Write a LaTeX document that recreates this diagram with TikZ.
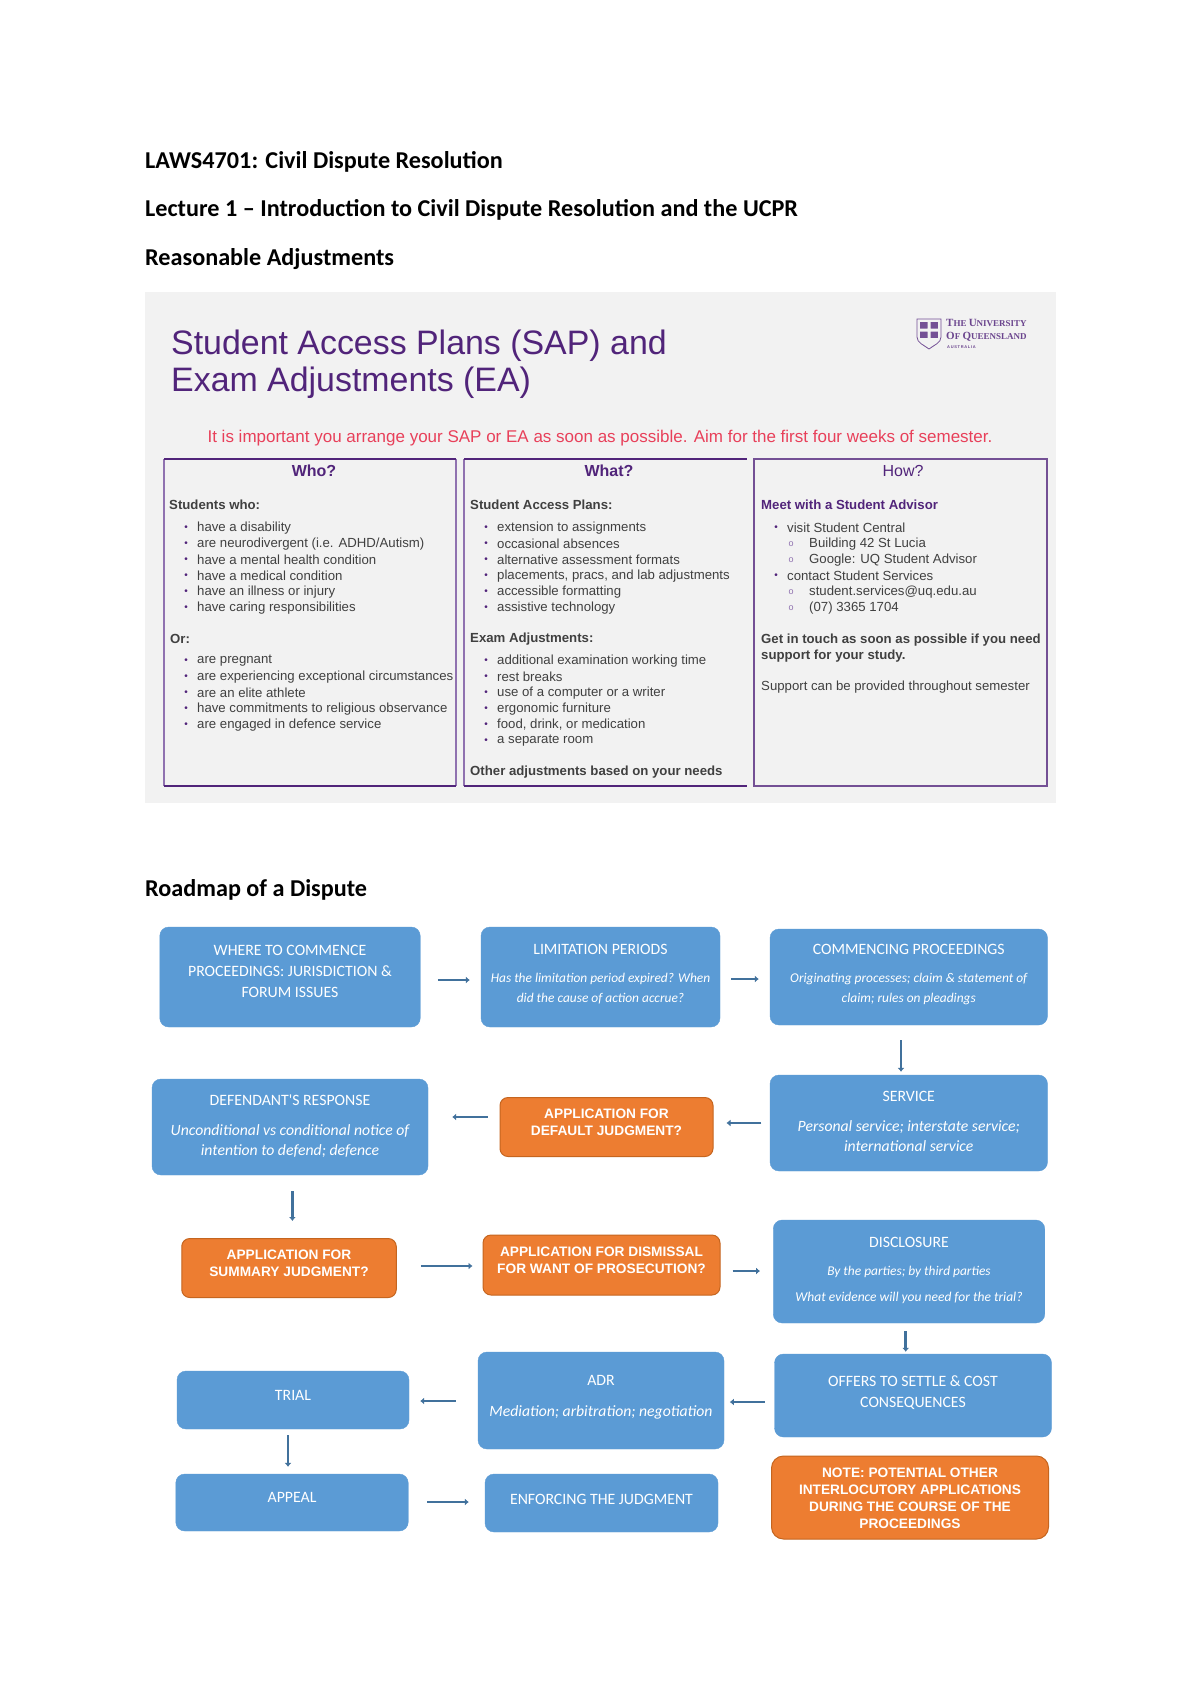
\documentclass[tikz,border=0pt]{standalone}
\usepackage{fontspec}
\usetikzlibrary{arrows.meta}
\setmainfont{Liberation Sans}
\newfontfamily\carl{Carlito}
\newfontfamily\serf{Liberation Serif}
\definecolor{uqp}{HTML}{51247A}
\definecolor{uql}{HTML}{9072B0}
\definecolor{uqr}{HTML}{E8405A}
\definecolor{panel}{HTML}{F2F2F2}
\definecolor{bluebox}{HTML}{5B9BD5}
\definecolor{orbox}{HTML}{ED7D31}
\definecolor{orline}{HTML}{C5651F}
\definecolor{arrowc}{HTML}{41719C}
\definecolor{gr}{HTML}{404040}
\newcommand\bt[2]{\smash{\raisebox{#1pt}{\begin{tabular}[c]{@{}c@{}}#2\end{tabular}}}}
\newcommand\ita{\itshape\fontsize{13.4}{20}\selectfont}
\newcommand\itb{\itshape\fontsize{15.7}{20}\selectfont}
\tikzset{
 hd/.style={anchor=base west,inner sep=0pt,font=\carl\bfseries\fontsize{24.2}{28}\selectfont,text=black},
 ttl/.style={anchor=base west,inner sep=0pt,font=\fontsize{33.9}{40}\selectfont,text=uqp},
 colh/.style={inner sep=0pt,font=\fontsize{16}{20}\selectfont,text=uqp},
 it/.style={anchor=west,inner sep=0pt,font=\fontsize{13.2}{16}\selectfont,text=gr},
 bh/.style={anchor=west,inner sep=0pt,font=\bfseries\fontsize{13.2}{16}\selectfont,text=gr},
 bul/.style={inner sep=0pt,font=\fontsize{10}{12}\selectfont,text=uqp},
 sbul/.style={inner sep=0pt,font=\fontsize{9}{12}\selectfont,text=uql},
 logot/.style={anchor=base west,inner sep=0pt,font=\serf\bfseries,text=uqp!85!white},
 bbox/.style={rectangle,rounded corners=9pt,fill=bluebox,draw=bluebox,inner sep=0pt,text=white,align=center,font=\carl\fontsize{15.8}{20}\selectfont},
 obox/.style={rectangle,rounded corners=8pt,fill=orbox,draw=orline,line width=1pt,inner sep=0pt,text=white,align=center,font=\bfseries\fontsize{13.7}{17}\selectfont},
 sz/.style 2 args={minimum width=#1pt,minimum height=#2pt},
 arr/.style={draw=arrowc,line width=2.6pt,-{Latex[length=4pt,width=7pt]}},
}
\begin{document}
\begin{tikzpicture}[x=1pt,y=-1pt]
\useasboundingbox (0,0) rectangle (1200,1698);
\fill[white] (0,0) rectangle (1200,1698);
% headings
\node[hd] (h1) at (145,168) {LAWS4701: Civil Dispute Resolution};
\node[hd] (h2) at (145,216) {Lecture 1 – Introduction to Civil Dispute Resolution and the UCPR};
\node[hd] (h3) at (145,265) {Reasonable Adjustments};
\node[hd] (h4) at (145,896) {Roadmap of a Dispute};
% slide
\node[anchor=north west,minimum width=911pt,minimum height=511pt,fill=panel,inner sep=0pt] (slide) at (145,292) {};
\node[ttl] (t1) at (171,354) {Student Access Plans (SAP) and};
\node[ttl] (t2) at (171,391) {Exam Adjustments (EA)};
\node[inner sep=0pt,text=uqr,font=\fontsize{17}{20}\selectfont] (red) at (600,438) {It is important you arrange your SAP or EA as soon as possible. Aim for the first four weeks of semester.};
% logo
\draw[uqp!80!white,line width=.8pt] (917,319) -- (941,319) -- (941,337) .. controls (941,343) and (934,345) .. (929,349) .. controls (924,345) and (917,343) .. (917,337) -- cycle;
\fill[uqp!80!white] (920,322) rectangle (938,338);
\fill[panel] (927.5,322) rectangle (930.5,341) (920,328.5) rectangle (938,331.5);
\node[logot] (l1) at (946,326) {{\fontsize{11}{12}\selectfont T}{\fontsize{9}{12}\selectfont HE }{\fontsize{11}{12}\selectfont U}{\fontsize{9}{12}\selectfont NIVERSITY}};
\node[logot] (l2) at (946,339) {{\fontsize{11}{12}\selectfont O}{\fontsize{9}{12}\selectfont F }{\fontsize{11}{12}\selectfont Q}{\fontsize{9}{12}\selectfont UEENSLAND}};
\node[logot,font=\fontsize{4}{5}\selectfont\bfseries] (l3) at (947,348) {A\,U\,S\,T\,R\,A\,L\,I\,A};
% column frames
\draw[uql,line width=1.3pt] (164,459) -- (164,786) (456,459) -- (456,786);
\draw[uqp,line width=1.3pt] (164,459) -- (456,459) (164,786) -- (456,786);
\draw[uql,line width=1.3pt] (464,459) -- (464,786);
\draw[uqp,line width=1.3pt] (464,459) -- (747,459) (464,786) -- (747,786);
\draw[uqp!80!white,line width=1.2pt] (754,459) rectangle (1047,786);
\node[colh,font=\bfseries\fontsize{16}{20}\selectfont] (cw) at (314,471) {Who?};
\node[colh,font=\bfseries\fontsize{16}{20}\selectfont] (cx) at (609,471) {What?};
\node[colh] (ch) at (903,471) {How?};
% Who
\node[bh] (wa) at (169,505) {Students who:};
\foreach \t [count=\i] in {have a disability,are neurodivergent (i.e. ADHD/Autism),have a mental health condition,have a medical condition,have an illness or injury,have caring responsibilities}{
 \node[it] (wi\i) at (197,{527.7+16*(\i-1)}) {\t};
 \node[bul] (wb\i) at (186,{527.7+16*(\i-1)}) {•};}
\node[bh] (wo) at (170,639) {Or:};
\foreach \t [count=\i] in {are pregnant,are experiencing exceptional circumstances,are an elite athlete,have commitments to religious observance,are engaged in defence service}{
 \node[it] (wj\i) at (197,{660.7+16*(\i-1)}) {\t};
 \node[bul] (wc\i) at (186,{660.7+16*(\i-1)}) {•};}
% What
\node[bh] (xa) at (470,505) {Student Access Plans:};
\foreach \t [count=\i] in {extension to assignments,occasional absences,alternative assessment formats,{placements, pracs, and lab adjustments},accessible formatting,assistive technology}{
 \node[it] (xi\i) at (497,{527.7+16*(\i-1)}) {\t};
 \node[bul] (xb\i) at (486,{527.7+16*(\i-1)}) {•};}
\node[bh] (xo) at (470,639) {Exam Adjustments:};
\foreach \t [count=\i] in {additional examination working time,rest breaks,use of a computer or a writer,ergonomic furniture,{food, drink, or medication},a separate room}{
 \node[it] (xj\i) at (497,{660.7+16*(\i-1)}) {\t};
 \node[bul] (xc\i) at (486,{660.7+16*(\i-1)}) {•};}
\node[bh] (xz) at (470,772) {Other adjustments based on your needs};
% How
\node[bh,text=uqp] (ha) at (761,505) {Meet with a Student Advisor};
\node[it] (h11) at (787,527.7) {visit Student Central};
\node[bul] (hb1) at (776,527.7) {•};
\node[it] (h12) at (809,543.7) {Building 42 St Lucia};
\node[sbul] (hs2) at (791,543.7) {o};
\node[it] (h13) at (809,559.7) {Google: UQ Student Advisor};
\node[sbul] (hs3) at (791,559.7) {o};
\node[it] (h14) at (787,575.7) {contact Student Services};
\node[bul] (hb4) at (776,575.7) {•};
\node[it] (h15) at (809,591.7) {student.services@uq.edu.au};
\node[sbul] (hs5) at (791,591.7) {o};
\node[it] (h16) at (809,607.7) {(07) 3365 1704};
\node[sbul] (hs6) at (791,607.7) {o};
\node[bh] (hg1) at (761,639.7) {Get in touch as soon as possible if you need};
\node[bh] (hg2) at (761,655.7) {support for your study.};
\node[it] (hg3) at (761,687) {Support can be provided throughout semester};
% roadmap
\node[bbox,sz={260.5}{100}] (b1) at (290,977) {\bt{1}{WHERE TO COMMENCE\\[1pt]PROCEEDINGS: JURISDICTION \&\\[1pt]FORUM ISSUES}};
\node[bbox,sz={239}{100}] (b2) at (600.5,977) {\bt{-1.5}{LIMITATION PERIODS\\[8pt]\ita Has the limitation period expired? When\\\ita did the cause of action accrue?}};
\node[bbox,sz={277.5}{96}] (b3) at (908.75,977) {\bt{-1}{COMMENCING PROCEEDINGS\\[8pt]\ita Originating processes; claim \& statement of\\\ita claim; rules on pleadings}};
\node[bbox,sz={277.5}{96}] (b4) at (908.75,1123) {\bt{-3.5}{SERVICE\\[10pt]\itb Personal service; interstate service;\\\itb international service}};
\node[obox,sz={213}{59}] (b5) at (606.5,1127) {\bt{0}{APPLICATION FOR\\DEFAULT JUDGMENT?}};
\node[bbox,sz={276}{96}] (b6) at (290,1127) {\bt{-3.5}{DEFENDANT'S RESPONSE\\[10pt]\itb Unconditional vs conditional notice of\\\itb intention to defend; defence}};
\node[obox,sz={214.5}{59}] (b7) at (289,1268) {\bt{0}{APPLICATION FOR\\SUMMARY JUDGMENT?}};
\node[obox,sz={237}{60}] (b8) at (601.5,1265) {\bt{-.5}{APPLICATION FOR DISMISSAL\\FOR WANT OF PROSECUTION?}};
\node[bbox,sz={271.5}{103}] (b9) at (909,1271.5) {\bt{-3}{DISCLOSURE\\[8pt]\ita By the parties; by third parties\\[6pt]\ita\fontsize{13.5}{20}\selectfont What evidence will you need for the trial?}};
\node[bbox,sz={277}{83}] (b10) at (913,1395.5) {\bt{-1}{OFFERS TO SETTLE \& COST\\[1pt]CONSEQUENCES}};
\node[bbox,sz={246}{97}] (b11) at (601,1400.5) {\bt{-.5}{ADR\\[11pt]\itb Mediation; arbitration; negotiation}};
\node[bbox,sz={232}{58}] (b12) at (293,1400) {\bt{0}{TRIAL}};
\node[bbox,sz={232.5}{57}] (b13) at (292,1502.5) {\bt{0}{APPEAL}};
\node[bbox,sz={233}{58}] (b14) at (601.5,1503) {\bt{-1}{ENFORCING THE JUDGMENT}};
\node[obox,rounded corners=12pt,sz={277}{83}] (b15) at (910,1497.5) {\bt{-6}{NOTE: POTENTIAL OTHER\\INTERLOCUTORY APPLICATIONS\\DURING THE COURSE OF THE\\PROCEEDINGS}};
% connectors
\draw[arr,shorten <=17.5pt,shorten >=11pt] ([yshift=-3pt]b1.east) -- ([yshift=-3pt]b2.west);
\draw[arr,shorten <=11pt,shorten >=11pt] ([yshift=-2pt]b2.east) -- ([yshift=-2pt]b3.west);
\draw[arr,shorten <=15pt,shorten >=3pt] ([xshift=-7.75pt]b3.south) -- ([xshift=-7.75pt]b4.north);
\draw[arr,shorten <=8.5pt,shorten >=13pt] (b4.west) -- ([yshift=4pt]b5.east);
\draw[arr,shorten <=12pt,shorten >=24pt] ([yshift=10pt]b5.west) -- ([yshift=10pt]b6.east);
\draw[arr,shorten <=16pt,shorten >=17pt] ([xshift=2.4pt]b6.south) -- ([xshift=3.4pt]b7.north);
\draw[arr,shorten <=24pt,shorten >=10pt] ([yshift=2pt]b7.east) -- ([yshift=-1pt]b8.west);
\draw[arr,shorten <=12pt,shorten >=13pt] ([yshift=-6pt]b8.east) -- ([yshift=.5pt]b9.west);
\draw[arr,shorten <=8pt,shorten >=2pt] ([xshift=-3.3pt]b9.south) -- ([xshift=-7.3pt]b10.north);
\draw[arr,shorten <=9.5pt,shorten >=5.6pt] ([yshift=-6.5pt]b10.west) -- ([yshift=-1.5pt]b11.east);
\draw[arr,shorten <=22pt,shorten >=11pt] ([yshift=-.5pt]b11.west) -- ([yshift=-1pt]b12.east);
\draw[arr,shorten <=6pt,shorten >=7pt] ([xshift=-5pt]b12.south) -- ([xshift=-4pt]b13.north);
\draw[arr,shorten <=19pt,shorten >=16pt] ([yshift=.5pt]b13.east) -- ([yshift=1pt]b14.west);
\end{tikzpicture}
\end{document}
